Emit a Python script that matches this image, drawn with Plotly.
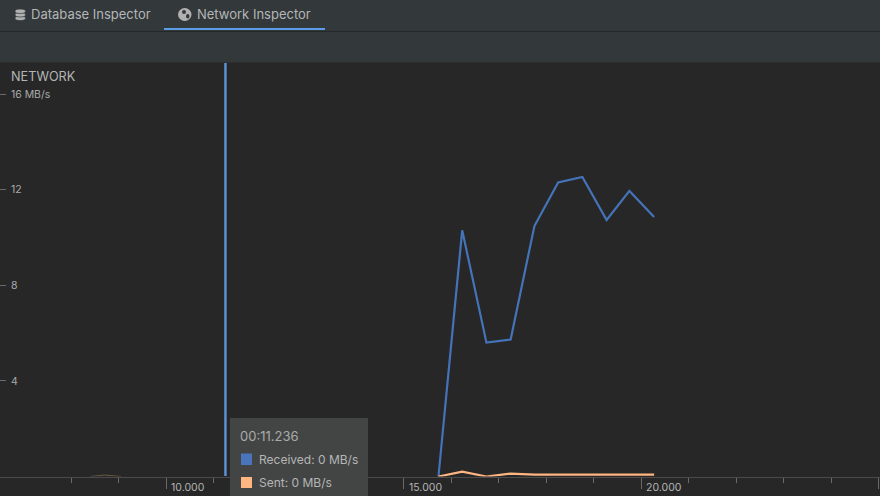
import plotly.graph_objects as go

W, H = 880, 496

# seconds on the profiler timeline, MB/s
times = [15.73, 16.23, 16.74, 17.25, 17.75, 18.25, 18.76, 19.27, 19.75, 20.27]
received = [0, 10.3, 5.6, 5.73, 10.48, 12.3, 12.53, 10.73, 11.95, 10.86]
sent = [0, 0.2, 0, 0.12, 0.08, 0.08, 0.08, 0.08, 0.08, 0.08]
blip_times = [8.4, 8.7, 9.05]
blip_sent = [0, 0.06, 0]
y_ticks = [4, 8, 12, 16]
y_labels = ["4", "8", "12", "16 MB/s"]
x_labels = [10, 15, 20]
cursor = 11.246

BG = "#272727"
BAR = "#33383b"
TEXT = "#b4b6b6"
FONT = "Inter"


def px(v):
    return v / W


def py(v):
    return 1 - v / H


def rect(x0, y0, x1, y1, fill, line=None):
    return dict(type="rect", xref="paper", yref="paper", x0=px(x0), x1=px(x1), y0=py(y0), y1=py(y1),
                fillcolor=fill, line=dict(color=line or fill, width=1 if line else 0), layer="above")


def oval(x0, y0, x1, y1, fill, line="rgba(0,0,0,0)", width=0):
    return dict(type="circle", xref="paper", yref="paper", x0=px(x0), x1=px(x1), y0=py(y0), y1=py(y1),
                fillcolor=fill, line=dict(color=line, width=width), layer="above")


def label(x, y, text, size=11, color=TEXT):
    return dict(xref="paper", yref="paper", x=px(x), y=py(y), text=text, showarrow=False, xanchor="left",
                yanchor="middle", xshift=-2, font=dict(family=FONT, size=size, color=color))


fig = go.Figure()
fig.add_trace(go.Scatter(x=blip_times, y=blip_sent, mode="lines", line=dict(color="#6d5a48", width=1)))
fig.add_trace(go.Scatter(x=times, y=received, mode="lines", line=dict(color="#4573b9", width=2.2)))
fig.add_trace(go.Scatter(x=times, y=sent, mode="lines", line=dict(color="#ffb682", width=2.2)))

shapes = [
    # tab strip and empty toolbar
    rect(0, 0, W, 31, BAR),
    rect(0, 31, W, 32, "#24272a"),
    rect(0, 32, W, 62.5, BAR),
    rect(164, 28, 325, 30, "#5c9be8"),
    # database icon
    oval(15, 16, 25.5, 20.5, "#b0b2b2", BAR, 0.7),
    oval(15, 12.5, 25.5, 17, "#b0b2b2", BAR, 0.7),
    oval(15, 9, 25.5, 13.5, "#b0b2b2", BAR, 0.7),
    # globe icon
    oval(178, 8, 191.5, 21, "#b0b2b2"),
    oval(182, 10, 186, 14, BAR),
    oval(186, 14, 189.5, 18.5, BAR),
    # playhead
    dict(type="line", xref="x", yref="paper", x0=cursor, x1=cursor, y0=py(476), y1=py(63),
         line=dict(color="#5c95de", width=2.4)),
    # tooltip
    rect(230, 418, 368, 497, "#434544"),
    rect(241, 453.5, 252, 465, "#4a74bb"),
    rect(241, 477, 252, 488, "#ffb682"),
]

annotations = [
    label(31, 14.5, "Database Inspector", 13),
    label(197, 14.5, "Network Inspector", 13),
    label(11, 76.5, "NETWORK", 12.7),
    label(240, 436, "00:11.236", 13, "#a9abab"),
    label(259, 459.5, "Received: 0 MB/s", 12),
    label(259, 482.5, "Sent: 0 MB/s", 12),
]
for v in x_labels:
    annotations.append(dict(xref="x", yref="paper", x=v, y=py(487), text=f"{v}.000", showarrow=False,
                            xanchor="left", yanchor="middle", xshift=3,
                            font=dict(family=FONT, size=10.5, color=TEXT)))

fig.update_layout(
    width=W, height=H, autosize=False, showlegend=False,
    margin=dict(l=0, r=0, t=0, b=0, pad=0),
    paper_bgcolor=BG, plot_bgcolor=BG,
    font=dict(family=FONT, size=10.5, color=TEXT),
    shapes=shapes, annotations=annotations,
)
fig.update_xaxes(
    range=[6.5, 25.025], showgrid=False, zeroline=False, showline=True, linecolor="#4b4b4b", linewidth=1,
    tick0=0, dtick=5, ticks="outside", ticklen=11, tickcolor="#6a6a6a", showticklabels=False,
    minor=dict(dtick=1, ticks="outside", ticklen=5, tickcolor="#6a6a6a"),
)
fig.update_yaxes(
    domain=[19.5 / H, 1 - 63 / H], range=[0, 17.3], showgrid=False, zeroline=False, showline=False,
    tickvals=y_ticks, ticktext=y_labels, ticks="inside", ticklen=6, tickcolor="#6a6a6a",
    ticklabelposition="inside", ticklabelstandoff=4,
    tickfont=dict(family=FONT, size=10.5, color="#a8aaaa"),
)

# browser default body margin would shift the figure by 8px
fig.write_html("out.html", config=dict(displayModeBar=False),
               post_script="document.body.style.margin='0';document.documentElement.style.overflow='hidden';")
